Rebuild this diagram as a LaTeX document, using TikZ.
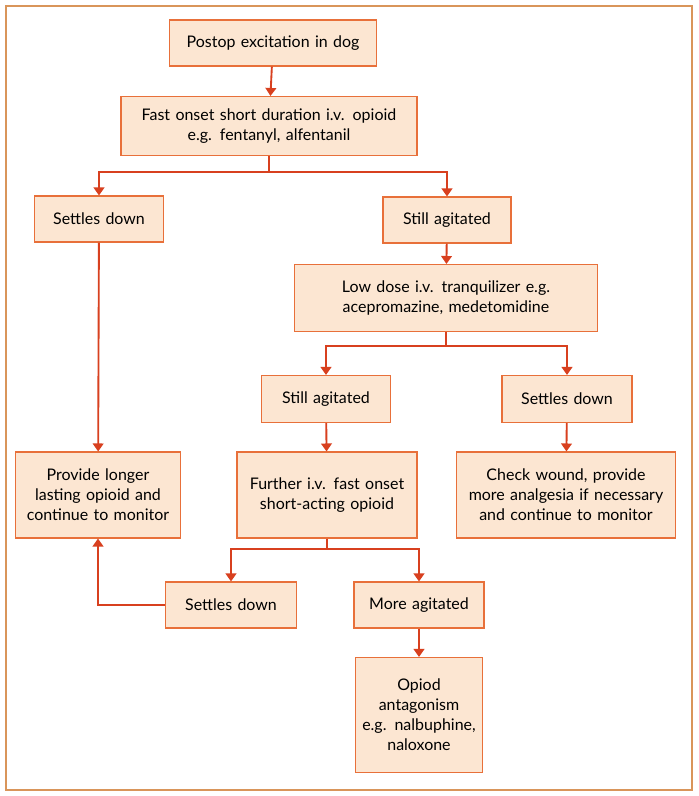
\documentclass[tikz,border=0pt]{standalone}
\usepackage{fontspec}
\setmainfont{Lato}
\usetikzlibrary{arrows.meta}
\definecolor{boxfill}{HTML}{FCE6D2}
\definecolor{boxline}{HTML}{E8703A}
\definecolor{arr}{HTML}{D8401F}
\definecolor{frame}{HTML}{D9955A}
\begin{document}
\begin{tikzpicture}[x=0.0264cm,y=-0.0264cm,
  box/.style={draw=boxline,fill=boxfill,line width=0.8pt,align=center,inner sep=2pt,font=\fontsize{12}{15}\selectfont},
  con/.style={draw=arr,line width=1.4pt,-{Triangle[length=6pt,width=8pt]}},
  ln/.style={draw=arr,line width=1.4pt}]
\draw[frame,line width=0.8pt,fill=white] (6,6) rectangle (692,790);
\useasboundingbox (0,0) rectangle (698,796);
\newcommand{\bx}[6]{\node[box,minimum width=#3*0.0264cm,minimum height=#4*0.0264cm,text width=(#3-12)*0.0264cm] (#5) at (#1,#2) {#6};}
\bx{273}{43}{207}{46}{a}{Postop excitation in dog}
\bx{269}{126}{296}{59}{b}{Fast onset short duration i.v. opioid\\e.g. fentanyl, alfentanil}
\bx{99}{219}{129}{46}{c}{Settles down}
\bx{447}{220}{128}{46}{d}{Still agitated}
\bx{446}{298}{303}{67}{e}{Low dose i.v. tranquilizer e.g.\\acepromazine, medetomidine}
\bx{326}{399}{129}{47}{f}{Still agitated}
\bx{567}{399}{130}{47}{g}{Settles down}
\bx{98}{495}{165}{86}{h}{Provide longer\\lasting opioid and\\continue to monitor}
\bx{327}{495}{180}{86}{i}{Further i.v. fast onset\\short-acting opioid}
\bx{566}{495}{219}{86}{j}{Check wound, provide\\more analgesia if necessary\\and continue to monitor}
\bx{231}{605}{131}{46}{k}{Settles down}
\bx{419}{605}{130}{46}{l}{More agitated}
\bx{419}{715}{127}{115}{m}{Opiod\\antagonism\\e.g. nalbuphine,\\naloxone}
\draw[con] (a) -- (b);
\coordinate (bj) at (269,172);
\draw[ln] (b) -- (bj);
\draw[con] (bj) -| (c);
\draw[con] (bj) -| (d);
\draw[con] (c) -- (h);
\draw[con] (d) -- (e);
\coordinate (ej) at (446,346);
\draw[ln] (e.south) -- (ej);
\draw[con] (ej) -| (f);
\draw[con] (ej) -| (g);
\draw[con] (f) -- (i);
\draw[con] (g) -- (j);
\coordinate (ij) at (327,549);
\draw[ln] (i.south) -- (ij);
\draw[con] (ij) -| (k);
\draw[con] (ij) -| (l);
\draw[con] (k.west) -| (h.south);
\draw[con] (l) -- (m);
\end{tikzpicture}
\end{document}
